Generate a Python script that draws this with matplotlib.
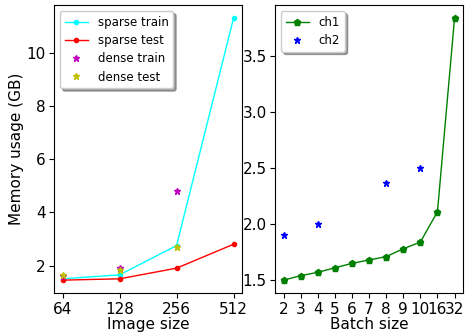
import matplotlib
matplotlib.use("Agg")
import matplotlib.pyplot as plt

image_sizes = ["64", "128", "256", "512"]
sparse_train = [1.5, 1.65, 2.75, 11.3]
sparse_test = [1.45, 1.5, 1.9, 2.8]
dense_train = [1.6, 1.9, 4.8]
dense_test = [1.65, 1.85, 2.7]

batch_sizes = ["2", "3", "4", "5", "6", "7", "8", "9", "10", "16", "32"]
ch1 = [1.50, 1.54, 1.57, 1.61, 1.65, 1.68, 1.71, 1.78, 1.84, 2.11, 3.84]
ch2_idx = [0, 2, 6, 8]
ch2 = [1.90, 2.00, 2.37, 2.50]

plt.rcParams['font.size'] = 11
plt.rcParams['xtick.major.pad'] = 2.5
plt.rcParams['ytick.major.pad'] = 2.5
fig, (ax1, ax2) = plt.subplots(1, 2, figsize=(4.74, 3.34), dpi=100)
fig.subplots_adjust(left=0.114, right=0.977, bottom=0.122, top=0.985, wspace=0.175)

x1 = list(range(len(image_sizes)))
ax1.plot(x1, sparse_train, color='cyan', marker='o', markersize=3, linewidth=1, label='sparse train')
ax1.plot(x1, sparse_test, color='red', marker='o', markersize=3, linewidth=1, label='sparse test')
ax1.plot(x1[:3], dense_train, 'm*', markersize=5, linestyle='none', label='dense train')
ax1.plot(x1[:3], dense_test, 'y*', markersize=5, linestyle='none', label='dense test')
ax1.set_xticks(x1)
ax1.set_xticklabels(image_sizes)
ax1.set_yticks([2, 4, 6, 8, 10])
ax1.set_xlabel('Image size', labelpad=0)
ax1.set_ylabel('Memory usage (GB)', labelpad=2)
ax1.legend(loc='upper left', fontsize=8.5, shadow=True, labelspacing=0.45)

x2 = list(range(len(batch_sizes)))
ax2.plot(x2, ch1, color='green', marker='p', markersize=5, linewidth=1, label='ch1')
ax2.plot(ch2_idx, ch2, 'b*', markersize=5, linestyle='none', label='ch2')
ax2.set_xticks(x2)
ax2.set_xticklabels(batch_sizes)
ax2.set_yticks([1.5, 2.0, 2.5, 3.0, 3.5])
ax2.set_xlabel('Batch size', labelpad=0)
ax2.legend(loc='upper left', fontsize=8.5, shadow=True, labelspacing=0.45)

fig.savefig('out.png', dpi=100)
